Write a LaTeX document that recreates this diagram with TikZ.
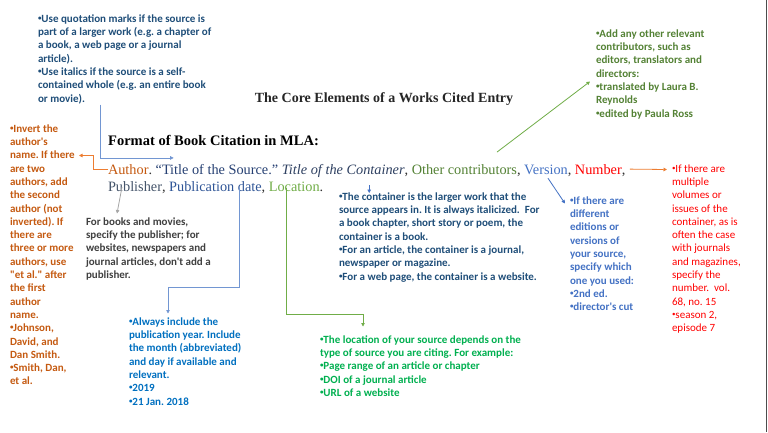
\documentclass[tikz,border=0pt]{standalone}
\usepackage{fontspec}
\setmainfont{Liberation Serif}
\newfontfamily\calfont{Carlito}
\usetikzlibrary{arrows.meta,calc}
\frenchspacing
\newcommand\bl{\raisebox{0.18em}{\fontsize{7}{7}\selectfont •}}
\definecolor{cAuthor}{RGB}{197,90,17}
\definecolor{cPunct}{RGB}{50,50,50}
\definecolor{cSrc}{RGB}{38,64,115}
\definecolor{cCont}{RGB}{47,65,98}
\definecolor{cOth}{RGB}{84,130,53}
\definecolor{cVer}{RGB}{68,114,196}
\definecolor{cNum}{RGB}{255,0,0}
\definecolor{cPub}{RGB}{68,84,106}
\definecolor{cPdate}{RGB}{47,85,151}
\definecolor{cLoc}{RGB}{112,173,71}
\definecolor{nTeal}{RGB}{31,78,121}
\definecolor{nOrange}{RGB}{197,90,17}
\definecolor{nGreen}{RGB}{84,130,53}
\definecolor{nGray}{RGB}{64,64,64}
\definecolor{nBlue}{RGB}{0,112,192}
\definecolor{nVer}{RGB}{68,114,196}
\definecolor{nRed}{RGB}{255,0,0}
\definecolor{nLoc}{RGB}{0,176,80}
\definecolor{lBlue}{RGB}{114,150,210}
\definecolor{lOrange}{RGB}{237,125,49}
\definecolor{lGreen}{RGB}{112,173,71}
\definecolor{lGray}{RGB}{166,166,166}
\begin{document}
\begin{tikzpicture}[x=1pt,y=-1pt,
  note/.style={anchor=north west, inner sep=0pt, outer sep=0pt, align=left,
    font=\calfont\bfseries\fontsize{11}{13.3}\selectfont},
  rnote/.style={anchor=north west, inner sep=0pt, outer sep=0pt, align=left,
    font=\calfont\fontsize{11}{13.3}\selectfont},
  cit/.style={anchor=base west, inner sep=0pt, outer sep=0pt,
    font=\fontsize{14.3}{17}\selectfont},
  conn/.style={line width=0.8pt, -{Triangle[length=3.5pt,width=3.5pt]}}
]
\useasboundingbox (0,0) rectangle (768,432);
\fill[white] (0,0) rectangle (768,432);
\draw[line width=1pt, black!70] (766.5,0) -- (766.5,432);

% headings
\node[inner sep=0pt, font=\bfseries\fontsize{14}{15}\selectfont, text=black!85] (title) at (384,99) {The Core Elements of a Works Cited Entry};
\node[anchor=west, inner sep=0pt, font=\bfseries\fontsize{14.5}{16}\selectfont] (fmt) at (108,140) {Format of Book Citation in MLA:};

% citation line 1
\node[cit, text=cAuthor] (author) at (108,174) {Author};
\node[cit, text=cPunct] (p1) at (author.base east) {.\kern.25em};
\node[cit, text=cSrc] (src) at (p1.base east) {“Title of the Source.”\kern.25em};
\node[cit, text=cCont] (cont) at (src.base east) {\textit{Title of the Container}};
\node[cit, text=cPunct] (p3) at (cont.base east) {,\kern.25em};
\node[cit, text=cOth] (oth) at (p3.base east) {Other contributors};
\node[cit, text=cPunct] (p4) at (oth.base east) {,\kern.25em};
\node[cit, text=cVer] (ver) at (p4.base east) {Version};
\node[cit, text=cPunct] (p5) at (ver.base east) {,\kern.25em};
\node[cit, text=cNum] (num) at (p5.base east) {Number};
\node[cit, text=cPunct] (p6) at (num.base east) {,};
% citation line 2
\node[cit, text=cPub] (pub) at (108,191) {Publisher};
\node[cit, text=cPunct] (q1) at (pub.base east) {,\kern.25em};
\node[cit, text=cPdate] (pdate) at (q1.base east) {Publication date};
\node[cit, text=cPunct] (q2) at (pdate.base east) {,\kern.25em};
\node[cit, text=cLoc] (loc) at (q2.base east) {Location};
\node[cit, text=cPunct] (q3) at (loc.base east) {.};

% notes
\node[note, text=nTeal] (qnote) at (38,14.5) {\bl Use quotation marks if the source is\\part of a larger work (e.g. a chapter of\\a book, a web page or a journal\\article).\\\bl Use italics if the source is a self-\\contained whole (e.g. an entire book\\or movie).};
\node[note, text=nOrange] (anote) at (10,124.5) {\bl Invert the\\author's\\name. If there\\are two\\authors, add\\the second\\author (not\\inverted). If\\there are\\three or more\\authors, use\\"et al." after\\the first\\author\\name.\\\bl Johnson,\\David, and\\Dan Smith.\\\bl Smith, Dan,\\et al.};
\node[note, text=nGreen] (gnote) at (596,29.5) {\bl Add any other relevant\\contributors, such as\\editors, translators and\\directors:\\\bl translated by Laura B.\\Reynolds\\\bl edited by Paula Ross};
\node[note, text=nGray] (pnote) at (86,217.5) {For books and movies,\\specify the publisher; for\\websites, newspapers and\\journal articles, don't add a\\publisher.};
\node[note, text=nBlue] (pdnote) at (129,317.5) {\bl Always include the\\publication year. Include\\the month (abbreviated)\\and day if available and\\relevant.\\\bl 2019\\\bl 21 Jan. 2018};
\node[note, text=nTeal] (cnote) at (339,192.5) {\bl The container is the larger work that the\\source appears in. It is always italicized.\ \ For\\a book chapter, short story or poem, the\\container is a book.\\\bl For an article, the container is a journal,\\newspaper or magazine.\\\bl For a web page, the container is a website.};
\node[note, text=nVer] (vnote) at (570,196.5) {\bl If there are\\different\\editions or\\versions of\\your source,\\specify which\\one you used:\\\bl 2nd ed.\\\bl director's cut};
\node[rnote, text=nRed] (nnote) at (672,164.5) {\bl If there are\\multiple\\volumes or\\issues of the\\container, as is\\often the case\\with journals\\and magazines,\\specify the\\number.\ \ vol.\\68, no. 15\\\bl season 2,\\episode 7};
\node[note, text=nLoc] (lnote) at (320,335.5) {\bl The location of your source depends on the\\type of source you are citing. For example:\\\bl Page range of an article or chapter\\\bl DOI of a journal article\\\bl URL of a website};

% connectors
\draw[conn, lBlue] ($(qnote.south west)+(62,1)$) |- ($(src.north west)+(18,-6)$);
\draw[conn, lOrange] (author.west) -- ++(-15,0) |- ($(anote.north west)+(69,31)$);
\draw[conn, lGreen] ($(oth.north east)+(-20,-12)$) -- ($(gnote.north west)+(-6,52)$);
\draw[conn, lOrange] ($(num.east)+(8,0)$) -- ($(nnote.north west)+(-5,5)$);
\draw[conn, nVer] ($(ver.south)+(2,4)$) -- ($(vnote.north west)+(-5,7)$);
\draw[conn, nVer] ($(cont.south)+(26,8)$) -- ($(cont.south)+(26,16)$);
\draw[conn, lGray] ($(pub.base west)+(14,-4)$) -- ($(pnote.north west)+(31,-4)$);
\draw[conn, lBlue] ($(pdate.base west)+(70,-3)$) -- ++(0,99) -| ($(pdnote.north west)+(39,-4)$);
\draw[conn, lGreen] ($(loc.base west)+(18,-3)$) -- ++(0,126) -| ($(lnote.north west)+(43,-9)$);
\end{tikzpicture}
\end{document}
